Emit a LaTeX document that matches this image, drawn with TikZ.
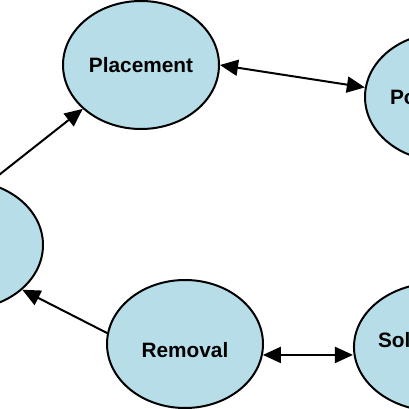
\documentclass[tikz,border=0pt]{standalone}
\usepackage{fontspec}
\setmainfont{Liberation Sans}
\usetikzlibrary{arrows.meta,shapes.geometric}
\definecolor{stagefill}{RGB}{183,222,232}

\begin{document}
\begin{tikzpicture}[x=1pt, y=-1pt, >={Triangle[length=18pt,width=16pt]},
  every node/.style={font=\fontsize{20.8}{24}\selectfont\bfseries},
  stage/.style={ellipse, draw, line width=2pt, fill=stagefill, minimum width=156pt, minimum height=128pt, inner sep=0pt},
  link/.style={line width=2pt}]
\clip (0,0) rectangle (409,409);
\node[stage] (place) at (141,65) {Placement};
\node[stage, text width=106pt, align=left] (pos) at (443,97) {Po};
\node[stage] (left) at (-35,245) {};
\node[stage, text height=28pt] (rem) at (185,344) {Removal};
\node[stage, text width=116pt, align=left, text depth=14pt] (sol) at (436,347) {Sol};
\draw[link, ->] (left.69) -- (place.217);
\draw[link, <->] (place.east) -- (pos.173);
\draw[link, ->] (rem.172) -- (left.-38);
\draw[link, <->] (rem.-8) -- (rem.-8 -| sol.west);
\end{tikzpicture}
\end{document}
